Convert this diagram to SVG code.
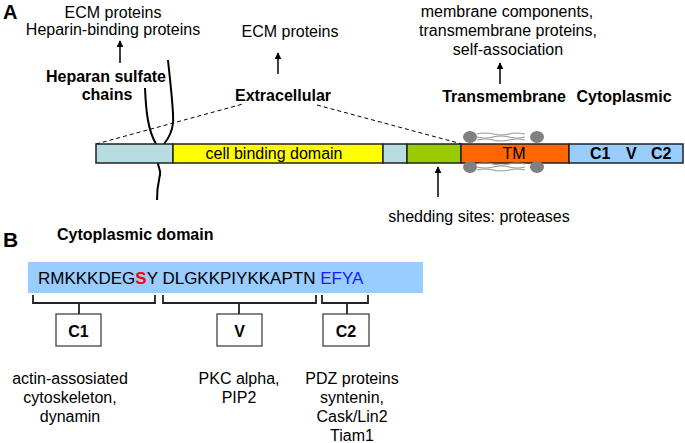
<svg xmlns="http://www.w3.org/2000/svg" width="685" height="443" viewBox="0 0 685 443">
<defs>
<marker id="ah" viewBox="0 0 10 10" refX="9" refY="5" markerWidth="7" markerHeight="7" markerUnits="userSpaceOnUse" orient="auto">
<path d="M0,0 L10,5 L0,10 z" fill="#000"/>
</marker>
</defs>
<style>
text{font-family:"Liberation Sans",Arial,sans-serif;fill:#000}
.t{font-size:16px}
.b{font-size:16px;font-weight:bold}
.c{text-anchor:middle}
.seg{stroke:#222;stroke-width:1.5}
.arr{stroke:#000;stroke-width:1.5;fill:none;marker-end:url(#ah)}
.dash{stroke:#000;stroke-width:1;stroke-dasharray:4,3;fill:none}
.chain{stroke:#000;stroke-width:2;fill:none}
.lip{fill:#808080}
.tail{stroke:#999;stroke-width:1.2;fill:none}
.box{fill:#fff;stroke:#333;stroke-width:1.2}
.br{stroke:#222;stroke-width:1.8;fill:none}
</style>
<rect width="685" height="443" fill="#fff"/>

<text x="3" y="19" style="font-size:20px;font-weight:bold">A</text>
<text x="3" y="247" style="font-size:21px;font-weight:bold">B</text>

<g id="labels-top">
<text class="t c" x="113" y="18">ECM proteins</text>
<text class="t c" x="113" y="35">Heparin-binding proteins</text>
<text class="b c" x="106" y="82">Heparan sulfate</text>
<text class="b c" x="107" y="100">chains</text>
<text class="t c" x="290" y="37">ECM proteins</text>
<text class="b c" x="283" y="101">Extracellular</text>
<text class="t c" x="507" y="17">membrane components,</text>
<text class="t c" x="508" y="36">transmembrane proteins,</text>
<text class="t c" x="508" y="55">self-association</text>
<text class="b c" x="504" y="102">Transmembrane</text>
<text class="b c" x="624" y="102">Cytoplasmic</text>
<text class="t c" x="479" y="222">shedding sites: proteases</text>
</g>

<g id="connectors">
<line class="arr" x1="120" y1="63" x2="120" y2="41"/>
<line class="arr" x1="278" y1="74" x2="278" y2="53"/>
<line class="arr" x1="500" y1="84" x2="500" y2="63"/>
<line class="arr" x1="438" y1="197" x2="438" y2="167"/>
<line class="dash" x1="96" y1="144" x2="243" y2="104"/>
<line class="dash" x1="317" y1="105" x2="462" y2="144"/>
</g>

<g id="chains">
<path class="chain" d="M145,88 C146,112 148,130 156,144"/>
<path class="chain" d="M168,60 C171,90 174,112 173,123 C172,133 168,139 164,144"/>
<path class="chain" d="M158,163 C158,167 161,170 160,175 C159,180 157,186 157,200"/>
</g>

<g id="bar">
<rect class="seg" x="96" y="144" width="77" height="19" fill="#b7dde0"/>
<rect class="seg" x="173" y="144" width="210" height="19" fill="#ffff00"/>
<rect class="seg" x="383" y="144" width="24" height="19" fill="#b7dde0"/>
<rect class="seg" x="407" y="144" width="54" height="19" fill="#99cc00"/>
<rect class="seg" x="461" y="144" width="108" height="19" fill="#ff6600"/>
<rect class="seg" x="569" y="144" width="114" height="19" fill="#99ccff"/>
<text class="t c" x="274" y="159">cell binding domain</text>
<text class="t c" x="514" y="159">TM</text>
<text class="b" x="590" y="159">C1</text>
<text class="b" x="626" y="159">V</text>
<text class="b" x="651" y="159">C2</text>
</g>

<g id="lipids">
<path class="tail" d="M477,134 q8,-2 16,0 t16,0 t16,0"/>
<path class="tail" d="M477,137 q8,2 16,0 t16,0 t16,0"/>
<path class="tail" d="M477,140 q8,-2 16,0 t16,0 t16,0"/>
<path class="tail" d="M477,164 q8,-2 16,0 t16,0 t16,0"/>
<path class="tail" d="M477,167 q8,2 16,0 t16,0 t16,0"/>
<path class="tail" d="M477,170 q8,-2 16,0 t16,0 t16,0"/>
<ellipse class="lip" cx="470" cy="137" rx="7" ry="6"/>
<ellipse class="lip" cx="537" cy="137" rx="7" ry="6"/>
<ellipse class="lip" cx="470" cy="167" rx="7" ry="6"/>
<ellipse class="lip" cx="537" cy="167" rx="7" ry="6"/>
</g>

<text class="b" x="57" y="240">Cytoplasmic domain</text>

<g id="sequence">
<rect x="28" y="262" width="395" height="31" fill="#99ccff"/>
<text x="38" y="284" style="font-size:17px">RMKKKDEG<tspan style="fill:#ff0000;font-weight:bold">S</tspan>Y DLGKKPIYKKAPTN <tspan style="fill:#1a1aff">EFYA</tspan></text>
</g>

<g id="brackets">
<path class="br" d="M33,295 V303 H155 V295 M79,303 V314"/>
<path class="br" d="M163,295 V303 H316 V295 M239,303 V314"/>
<path class="br" d="M322,295 V303 H368 V295 M347,303 V314"/>
</g>

<g id="box-C1">
<rect class="box" x="56" y="314" width="45" height="32"/>
<text class="b c" x="78.5" y="337">C1</text>
</g>
<g id="box-V">
<rect class="box" x="217" y="314" width="45" height="32"/>
<text class="b c" x="239.5" y="337">V</text>
</g>
<g id="box-C2">
<rect class="box" x="323" y="314" width="46" height="32"/>
<text class="b c" x="346" y="337">C2</text>
</g>

<g id="notes">
<text class="t c" x="70" y="384">actin-assosiated</text>
<text class="t c" x="70" y="403">cytoskeleton,</text>
<text class="t c" x="70" y="422">dynamin</text>
<text class="t c" x="239" y="384">PKC alpha,</text>
<text class="t c" x="239" y="403">PIP2</text>
<text class="t c" x="352" y="384">PDZ proteins</text>
<text class="t c" x="352" y="403">syntenin,</text>
<text class="t c" x="352" y="422">Cask/Lin2</text>
<text class="t c" x="352" y="441">Tiam1</text>
</g>
</svg>
